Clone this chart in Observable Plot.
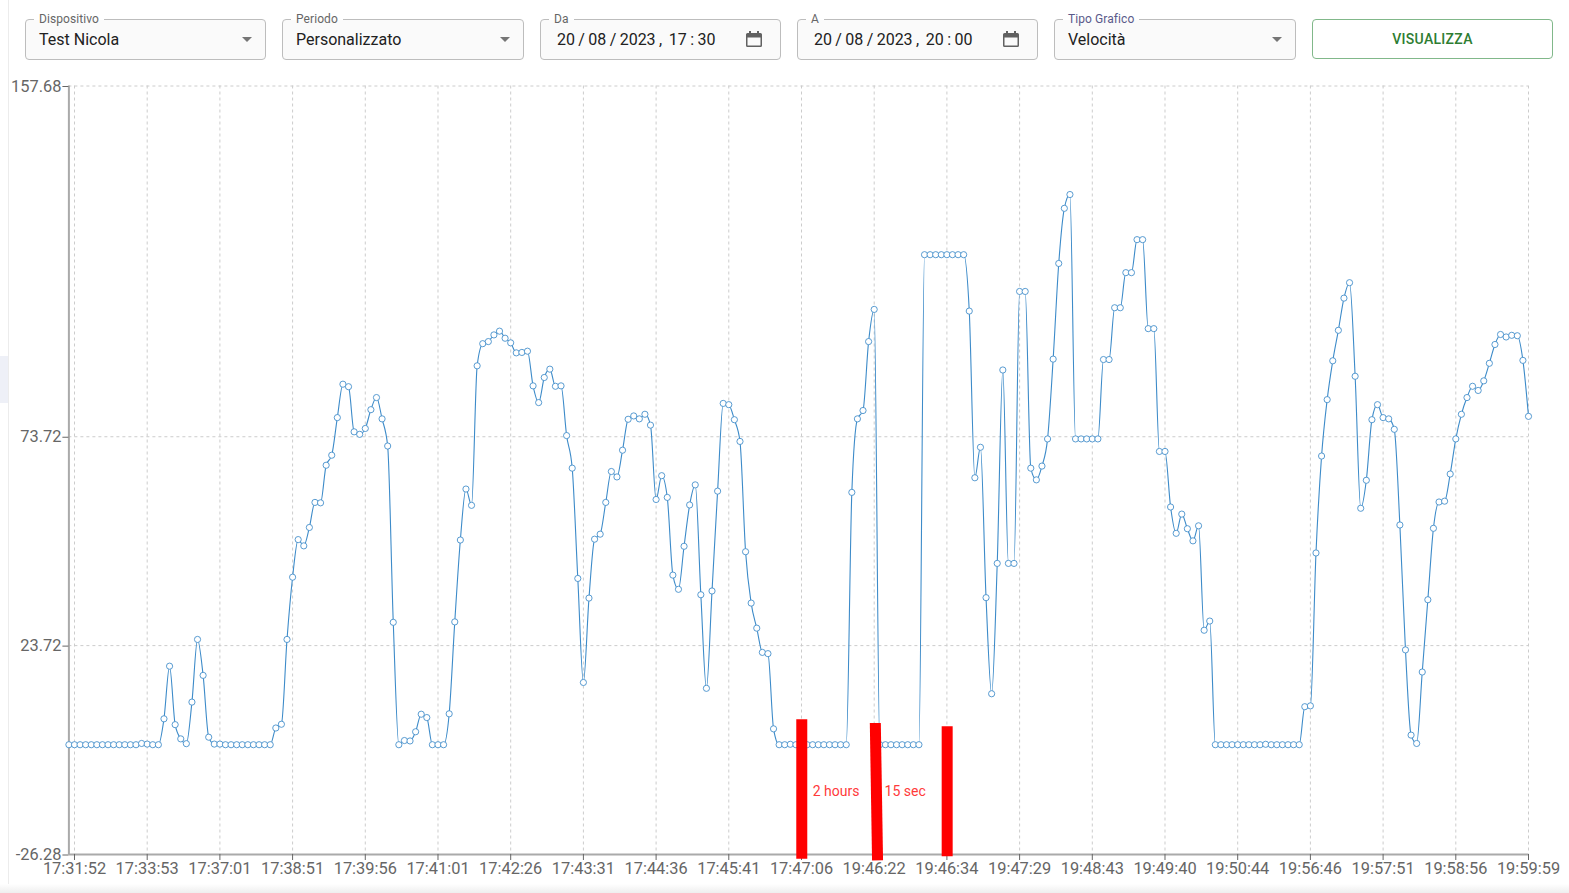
<!DOCTYPE html>
<html lang="it">
<head>
<meta charset="utf-8">
<title>Velocità</title>
<script src="https://cdn.jsdelivr.net/npm/d3@7"></script>
<script src="https://cdn.jsdelivr.net/npm/@observablehq/plot@0.6"></script>
<style>
html,body{margin:0;padding:0;background:#fff;overflow:hidden;width:1569px;height:893px;font-family:Roboto,sans-serif}
#header{position:relative;height:70px;width:1569px}
#chart{position:relative;height:823px;width:1569px}
#chart svg{display:block;overflow:visible}
.field{position:absolute;top:19px;height:39px;box-sizing:content-box;border:1px solid #bdbdbd;border-radius:4px;background:#fafafa}
.field .lab{position:absolute;left:8px;top:-8px;padding:0 5px;font-size:12px;line-height:14px;color:#666;letter-spacing:.08px;background:linear-gradient(#fff 55%,#fafafa 55%)}
.field .val{position:absolute;left:13px;top:10px;font-size:16px;line-height:19px;color:#212121;white-space:pre}
.field .date{left:16px;word-spacing:-.6px}
.arrow{position:absolute;right:13px;top:17px;width:0;height:0;border-left:5px solid transparent;border-right:5px solid transparent;border-top:5px solid #757575}
.cal{position:absolute;right:17px;top:10px}
#btn{position:absolute;left:1312px;top:19px;width:239px;height:38px;border:1px solid #81b88a;border-radius:4px;color:#2e7d32;font-size:14px;font-weight:500;line-height:38px;text-align:center;letter-spacing:.3px}
#side{position:absolute;left:8px;top:0;width:1px;height:893px;background:#ececec}
#patch{position:absolute;left:0;top:356px;width:8px;height:47px;background:#eef0f7}
#foot{position:absolute;left:0;top:884px;width:1569px;height:9px;background:linear-gradient(#fff,#eeeeee)}
</style>
</head>
<body>
<div id="side"></div><div id="patch"></div><div id="foot"></div>
<div id="header"></div>
<div id="chart"></div>
<script>
// Filter bar
const selects = [
  {label:"Dispositivo", value:"Test Nicola", left:25, width:239},
  {label:"Periodo", value:"Personalizzato", left:282, width:240},
  {label:"Tipo Grafico", value:"Velocità", left:1054, width:240}
];
const dates = [
  {label:"Da", value:"20 / 08 / 2023 ,  17 : 30", left:540, width:239},
  {label:"A", value:"20 / 08 / 2023 ,  20 : 00", left:797, width:239}
];
const buttonLabel = "VISUALIZZA";

// Series: speed per sample
const speed = [
  0,0,0,0,0,0,0,0,0,0,0,0,0,0.3,0.15,0,0,6.2,18.8,4.8,
  1.4,0.25,10.2,25.2,16.6,1.8,0.15,0.15,0,0,0,0,0,0,0,0,0,4,4.9,25.2,
  40.1,49.1,47.6,52,58,57.9,66.9,69.3,78.3,86.3,85.7,74.9,74.3,75.7,80.2,83.1,78,71.5,29.3,0,
  1,0.9,3.1,7.3,6.5,0,0,0,7.4,29.4,49,61.2,57.3,90.7,96,96.5,98.1,99,97.3,96.2,
  93.8,93.9,94.2,85.9,81.9,87.9,89.9,85.8,85.9,74,66.2,39.8,14.9,35.1,49.2,50.4,58,65.4,64.1,70.5,
  77.9,78.7,78,79.1,76.5,58.7,64.4,59.2,40.6,37.2,47.5,57.4,62.2,35.9,13.5,36.8,60.7,81.7,81.4,77.8,
  72.6,46.2,33.9,27.9,22.1,21.8,3.8,0,0,0.1,0,0,0,0,0,0,0,0,0,0,
  60.4,78,80,96.5,104.2,0,0,0,0,0,0,0,0,117.3,117.3,117.3,117.3,117.3,117.3,117.3,
  117.3,103.8,63.9,71.2,35.2,12.2,43.4,89.7,43.4,43.4,108.5,108.5,66.2,63.4,66.7,73.2,92.3,115.2,128.4,131.7,
  73.2,73.2,73.2,73.2,73.2,92.2,92.2,104.6,104.6,113,113,120.9,120.9,99.6,99.6,70.2,70.2,56.9,50.6,55.2,
  51.7,48.8,52.4,27.4,29.6,0,0,0,0,0,0,0,0,0,0.1,0,0,0,0,0,
  0,9.1,9.3,45.9,69.1,82.6,91.9,99.2,106.9,110.6,88.2,56.6,63.3,77.8,81.4,78.3,78,75.5,52.6,22.7,
  2.3,0.3,17.4,34.7,51.8,58.1,58.3,64.8,73.2,79.1,83.1,85.8,84.8,87.1,91.3,95.8,98.2,97.6,98,97.9,
  92,78.6
];

// Axis
const tickIndex = [1,14,27,40,53,66,79,92,105,118,131,144,157,170,183,196,209,222,235,248,261];
const tickLabels = ["17:31:52","17:33:53","17:37:01","17:38:51","17:39:56","17:41:01","17:42:26","17:43:31","17:44:36","17:45:41","17:47:06","19:46:22","19:46:34","19:47:29","19:48:43","19:49:40","19:50:44","19:56:46","19:57:51","19:58:56","19:59:59"];
const yTicks = [-26.28,23.72,73.72,157.68];

// Hand-drawn annotations
const barsFrom = [131.05,144.2,157.05];
const barsTo = [131.05,144.6,157.05];
const barsTop = [6.1,5.2,4.4];
const barsBottom = [-27.3,-27.7,-26.7];
const noteText = ["2 hours","15 sec"];
const noteAt = [133,145.85];
const noteValue = [-11.3,-11.3];

const header = document.getElementById("header");
const cal = '<svg class="cal" width="18" height="18" viewBox="0 0 18 18"><path d="M2.5 3h13a1.5 1.5 0 0 1 1.5 1.5v11a1.5 1.5 0 0 1-1.5 1.5h-13A1.5 1.5 0 0 1 1 15.500v-11A1.5 1.5 0 0 1 2.500 3zm0 4.500v8h13v-8z" fill="#616161"/><rect x="4" y="1" width="2" height="3" fill="#616161"/><rect x="12" y="1" width="2" height="3" fill="#616161"/></svg>';
for (const s of selects) {
  header.insertAdjacentHTML("beforeend", `<div class="field" style="left:${s.left}px;width:${s.width}px"><span class="lab"${s.label==="Tipo Grafico"?' style="color:#5a5a8a"':""}>${s.label}</span><span class="val">${s.value}</span><span class="arrow"></span></div>`);
}
for (const s of dates) {
  header.insertAdjacentHTML("beforeend", `<div class="field" style="left:${s.left}px;width:${s.width}px"><span class="lab">${s.label}</span><span class="val date">${s.value}</span>${cal}</div>`);
}
header.insertAdjacentHTML("beforeend", `<div id="btn">${buttonLabel}</div>`);

const rows = speed.map((v,i)=>({i,v}));
const bars = barsFrom.map((x1,k)=>({x1,x2:barsTo[k],y1:barsTop[k],y2:barsBottom[k]}));
const notes = noteText.map((t,k)=>({t,x:noteAt[k],y:noteValue[k]}));
const blue = "#3d8bc9";

const chart = Plot.plot({
  width:1569, height:823,
  marginLeft:68.4, marginRight:41, marginTop:15.5, marginBottom:39,
  x:{domain:[0,261], label:null},
  y:{domain:[-26.28,157.68], label:null},
  style:{fontFamily:"Roboto, sans-serif", background:"transparent", color:"#666"},
  marks:[
    Plot.gridX({ticks:tickIndex, stroke:"#cccccc", strokeOpacity:1, strokeDasharray:"3 3"}),
    Plot.gridY({ticks:yTicks, stroke:"#cccccc", strokeOpacity:1, strokeDasharray:"3 3", x1:0, x2:261}),
    Plot.ruleX([0],{stroke:"#aaaaaa", strokeWidth:2}),
    Plot.ruleY([-26.28],{stroke:"#aaaaaa", strokeWidth:2, x1:0, x2:261}),
    Plot.axisX({ticks:tickIndex, tickFormat:d=>tickLabels[tickIndex.indexOf(d)], tickSize:6, tickPadding:2, fontSize:16.4, stroke:"#666", fill:"#666", label:null}),
    Plot.axisY({ticks:yTicks, tickFormat:d=>d.toFixed(2), tickSize:6, tickPadding:1.5, dy:0.5, fontSize:16.4, stroke:"#666", fill:"#666", label:null}),
    Plot.line(rows,{x:"i", y:"v", stroke:blue, strokeWidth:1.1, curve:"monotone-x"}),
    Plot.dot(rows,{x:"i", y:"v", r:3.1, fill:"white", stroke:blue, strokeWidth:1, strokeOpacity:.85}),
    Plot.link(bars,{x1:"x1", x2:"x2", y1:"y1", y2:"y2", stroke:"#ff0000", strokeWidth:11, strokeLinecap:"butt", strokeOpacity:1}),
    Plot.text(notes,{x:"x", y:"y", text:"t", textAnchor:"start", fontSize:14, fill:"#ff3a3a"})
  ]
});
document.getElementById("chart").appendChild(chart);
</script>
</body>
</html>
